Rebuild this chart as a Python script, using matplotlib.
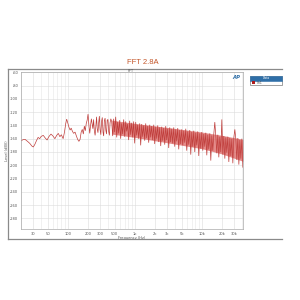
import matplotlib
matplotlib.use("Agg")
import matplotlib.pyplot as plt
from matplotlib.lines import Line2D
from matplotlib.patches import Rectangle

# ---------------- data ----------------
low_freq = [20, 21.5, 23, 25, 27, 29, 30.5, 32, 34, 36, 38, 40, 43, 46, 49, 52, 56, 60,
            64, 68, 72, 76, 80, 85, 89, 93, 96, 100, 104, 108, 112, 117, 122, 128, 134,
            140, 146, 152, 158, 164, 170, 176, 182, 188, 194, 200, 206, 212, 218, 224,
            230, 236, 242, 248, 255, 262, 268, 274, 281, 288, 295, 302, 310, 318, 326,
            334, 342, 350, 359, 368, 377, 386, 396, 406, 416, 426, 437]
low_level = [-163, -161.5, -161, -164, -167, -171, -172.5, -169, -163, -158, -160, -156.5,
             -155, -159, -162, -157, -153, -156, -160, -155, -152, -157, -154, -160, -150,
             -137, -130.5, -137, -143, -147, -144, -149, -152, -150, -156, -161, -164,
             -161, -150, -146, -153, -141, -148, -137, -132, -123, -140, -152, -140, -130,
             -138, -145, -131, -148, -155, -140, -127, -145, -151, -136, -126, -146, -154,
             -134, -128, -150, -156, -133, -129, -147, -153, -132, -131, -149, -155, -136,
             -130]

hi_freq = [450, 466, 482, 499, 517, 535, 553, 573, 593, 613,
           635, 657, 680, 704, 728, 754, 780, 807, 835, 865,
           895, 926, 958, 992, 1027, 1063, 1100, 1138, 1178, 1219,
           1262, 1306, 1352, 1399, 1448, 1499, 1551, 1605, 1662, 1720,
           1780, 1842, 1907, 1973, 2042, 2114, 2188, 2264, 2343, 2425,
           2510, 2598, 2689, 2783, 2880, 2981, 3085, 3193, 3305, 3420,
           3540, 3664, 3792, 3925, 4062, 4204, 4351, 4503, 4661, 4824,
           4993, 5167, 5348, 5535, 5729, 5929, 6137, 6351, 6574, 6804,
           7042, 7288, 7543, 7807, 8080, 8363, 8656, 8959, 9272, 9597,
           9933, 10280, 10640, 11012, 11398, 11797, 12210, 12637, 13079, 13537,
           14011, 14501, 15009, 15534, 16078, 16641, 17223, 17826, 18450, 19096,
           19764, 20456, 21172, 21913, 22680, 23473, 24295, 25145, 26025, 26936,
           27879, 28855, 29865, 30910, 31992, 33112, 34270, 35470, 36711, 37996,
           39326, 40702]
hi_level = [-134, -156, -130, -150, -127, -158, -135, -152, -132, -160,
            -137, -153, -131, -157, -134, -149, -138, -162, -133, -154,
            -136, -158, -134, -167, -135, -155, -139, -160, -137, -170,
            -138, -157, -140, -163, -137, -159, -141, -166, -139, -158,
            -141, -162, -139, -168, -142, -160, -140, -165, -143, -171,
            -142, -163, -144, -169, -141, -162, -145, -174, -143, -165,
            -145, -167, -143, -172, -146, -164, -144, -176, -147, -168,
            -146, -170, -148, -166, -145, -178, -149, -169, -147, -184,
            -150, -172, -148, -180, -151, -170, -149, -186, -152, -175,
            -150, -178, -153, -172, -151, -185, -154, -176, -152, -193,
            -155, -178, -153, -135, -156, -182, -154, -188, -157, -180,
            -131, -184, -156, -190, -158, -181, -157, -195, -159, -186,
            -160, -197, -158, -146, -161, -192, -159, -199, -162, -190,
            -160, -203]

# envelope of the densely packed part of the trace
band_freq = [450, 1000, 3000, 10000, 20000, 40900]
band_top = [-132, -137, -143, -150, -155, -161]
band_bottom = [-153, -158, -166, -175, -183, -194]

freq = low_freq + hi_freq
level = low_level + hi_level

x_ticks = [30, 50, 100, 200, 300, 500, 1000, 2000, 3000, 5000, 10000, 20000, 30000]
x_labels = ["30", "50", "100", "200", "300", "500", "1k", "2k", "3k", "5k", "10k", "20k", "30k"]
y_ticks = [-280, -260, -240, -220, -200, -180, -160, -140, -120, -100, -80, -60]

# ---------------- figure ----------------
W = H = 300
fig = plt.figure(figsize=(3, 3), dpi=100)
fig.patch.set_facecolor("white")

def fx(x):
    return x / W

def fy(y):
    return 1 - y / H

ax = fig.add_axes([fx(21), fy(229), fx(243) - fx(21), fy(72.3) - fy(229)])
ax.set_xscale("log")
ax.set_xlim(20, 40900)
ax.set_ylim(-296, -60)

ax.fill_between(band_freq, band_top, band_bottom, color="#db6461", alpha=0.75, lw=0)
ax.plot(freq, level, color="#bf3c3a", lw=0.5, solid_joinstyle="miter")

ax.set_xticks(x_ticks)
ax.set_xticklabels(x_labels)
ax.set_yticks(y_ticks)
ax.set_yticklabels([str(v) for v in y_ticks])
ax.tick_params(axis="both", which="both", length=0, labelsize=2.6, colors="#555555", pad=2)
ax.xaxis.set_minor_formatter(matplotlib.ticker.NullFormatter())
ax.grid(True, which="major", color="#dcdcdc", lw=0.4)
ax.grid(True, which="minor", axis="x", color="#e6e6e6", lw=0.4)
ax.set_axisbelow(True)
for s in ax.spines.values():
    s.set_color("#aaaaaa")
    s.set_linewidth(0.5)

ax.set_xlabel("Frequency (Hz)", fontsize=2.6, color="#555555", labelpad=0.5)
ax.set_ylabel("Level (dBV)", fontsize=2.6, color="#555555", labelpad=1)

# title and decorations
fig.text(fx(143), fy(63), "FFT 2.8A", ha="center", va="center", fontsize=5.5,
         color="#c4572b", family="Liberation Sans")
fig.text(fx(131), fy(70.5), "FFT", ha="center", va="center", fontsize=2.5, color="#555555")
fig.text(fx(236), fy(77.5), "AP", ha="center", va="center", fontsize=3.8, color="#2f6fa8",
         fontweight="bold", fontstyle="italic")

# outer frame lines
fig.add_artist(Line2D([fx(8), fx(282)], [fy(69), fy(69)], color="#8a8a8a", lw=0.9))
fig.add_artist(Line2D([fx(8), fx(8)], [fy(69), fy(239)], color="#8a8a8a", lw=0.9))
fig.add_artist(Line2D([fx(8), fx(282)], [fy(239), fy(239)], color="#8a8a8a", lw=0.9))

# legend box
fig.add_artist(Rectangle((fx(250), fy(85)), fx(282) - fx(250), fy(76) - fy(85),
                         facecolor="white", edgecolor="#7a7a7a", lw=0.5))
fig.add_artist(Rectangle((fx(250), fy(80.5)), fx(282) - fx(250), fy(76) - fy(80.5),
                         facecolor="#2f6fa8", edgecolor="#2f6fa8", lw=0.4))
fig.text(fx(266), fy(78.2), "Data", ha="center", va="center", fontsize=2.2, color="white")
fig.add_artist(Rectangle((fx(252), fy(84)), fx(3), fx(3), facecolor="#b01c1c", edgecolor="none"))
fig.text(fx(256.5), fy(82.6), "Ch1", ha="left", va="center", fontsize=2.2, color="#444444")

fig.savefig("out.png", dpi=100)
